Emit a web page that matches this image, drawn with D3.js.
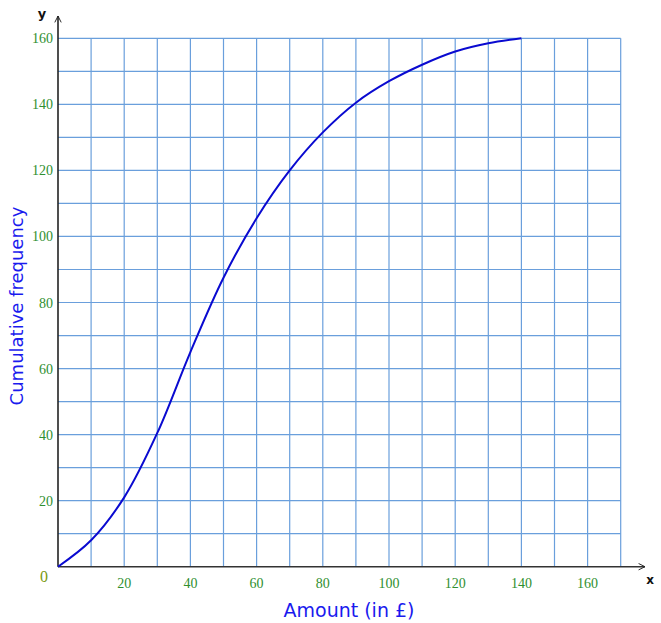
<!DOCTYPE html>
<html>
<head>
<meta charset="utf-8">
<script src="https://cdn.jsdelivr.net/npm/d3@7"></script>
<style>
  body { margin: 0; background: #fff; }
</style>
</head>
<body>
<div id="chart"></div>
<script>
// cumulative frequency
const amounts = [0, 10, 20, 30, 40, 50, 60, 70, 80, 90, 100, 110, 120, 130, 140];
const cumFreq = [0, 8, 21, 40.5, 65, 87.5, 105.5, 120, 131.5, 140.5, 147, 152, 156, 158.5, 160];
const xTicks = [20, 40, 60, 80, 100, 120, 140, 160];
const yTicks = [20, 40, 60, 80, 100, 120, 140, 160];

const width = 661, height = 623;

const x = d3.scaleLinear().domain([0, 170]).range([58, 620.7]);
const y = d3.scaleLinear().domain([0, 160]).range([566.7, 38.3]);

const svg = d3.select("#chart").append("svg")
  .attr("width", width)
  .attr("height", height);

// grid
const grid = svg.append("g")
  .attr("stroke", "#6a9fdc")
  .attr("stroke-width", 1.2);

grid.selectAll("line.v")
  .data(d3.range(10, 171, 10))
  .enter().append("line")
  .attr("x1", d => x(d)).attr("x2", d => x(d))
  .attr("y1", y(0)).attr("y2", y(160));

grid.selectAll("line.h")
  .data(d3.range(10, 161, 10))
  .enter().append("line")
  .attr("x1", x(0)).attr("x2", x(170))
  .attr("y1", d => y(d)).attr("y2", d => y(d));

// axes with arrow heads
svg.append("defs").append("marker")
  .attr("id", "arrow")
  .attr("viewBox", "0 0 10 10")
  .attr("refX", 9).attr("refY", 5)
  .attr("markerWidth", 8).attr("markerHeight", 8)
  .attr("markerUnits", "userSpaceOnUse")
  .attr("orient", "auto")
  .append("path")
  .attr("d", "M1,1 L9,5 L1,9")
  .attr("fill", "none")
  .attr("stroke", "#222")
  .attr("stroke-width", 1.2);

svg.append("line")
  .attr("x1", x(0)).attr("y1", y(0))
  .attr("x2", 645).attr("y2", y(0))
  .attr("stroke", "#333").attr("stroke-width", 1.6)
  .attr("marker-end", "url(#arrow)");

svg.append("line")
  .attr("x1", x(0)).attr("y1", y(0))
  .attr("x2", x(0)).attr("y2", 16)
  .attr("stroke", "#222").attr("stroke-width", 1.6)
  .attr("marker-end", "url(#arrow)");

// tick labels
svg.selectAll("text.xt")
  .data(xTicks)
  .enter().append("text")
  .attr("x", d => x(d))
  .attr("y", 588)
  .attr("text-anchor", "middle")
  .attr("font-family", "Liberation Serif, serif")
  .attr("font-size", 14)
  .attr("fill", "#2f8f2f")
  .text(d => d);

svg.selectAll("text.yt")
  .data(yTicks)
  .enter().append("text")
  .attr("x", 53)
  .attr("y", d => y(d) + 5)
  .attr("text-anchor", "end")
  .attr("font-family", "Liberation Serif, serif")
  .attr("font-size", 14)
  .attr("fill", "#2f8f2f")
  .text(d => d);

svg.append("text")
  .attr("x", 44).attr("y", 582)
  .attr("text-anchor", "middle")
  .attr("font-family", "Liberation Serif, serif")
  .attr("font-size", 16)
  .attr("fill", "#7a9a10")
  .text("0");

// axis letters
svg.append("text")
  .attr("x", 42).attr("y", 18)
  .attr("text-anchor", "middle")
  .attr("font-family", "DejaVu Sans, sans-serif")
  .attr("font-size", 13)
  .attr("font-weight", "bold")
  .attr("fill", "#111")
  .text("y");

svg.append("text")
  .attr("x", 650).attr("y", 584)
  .attr("text-anchor", "middle")
  .attr("font-family", "DejaVu Sans, sans-serif")
  .attr("font-size", 12)
  .attr("font-weight", "bold")
  .attr("fill", "#111")
  .text("x");

// axis titles
svg.append("text")
  .attr("x", 349).attr("y", 617)
  .attr("text-anchor", "middle")
  .attr("font-family", "DejaVu Sans, sans-serif")
  .attr("font-size", 19)
  .attr("fill", "#1a1aee")
  .text("Amount (in £)");

svg.append("text")
  .attr("transform", "translate(23,306) rotate(-90)")
  .attr("text-anchor", "middle")
  .attr("font-family", "DejaVu Sans, sans-serif")
  .attr("font-size", 18)
  .attr("fill", "#1a1aee")
  .text("Cumulative frequency");

// curve
const line = d3.line()
  .x((d, i) => x(amounts[i]))
  .y(d => y(d))
  .curve(d3.curveCatmullRom.alpha(0.5));

svg.append("path")
  .datum(cumFreq)
  .attr("d", line)
  .attr("fill", "none")
  .attr("stroke", "#0a0ad0")
  .attr("stroke-width", 2);
</script>
</body>
</html>
